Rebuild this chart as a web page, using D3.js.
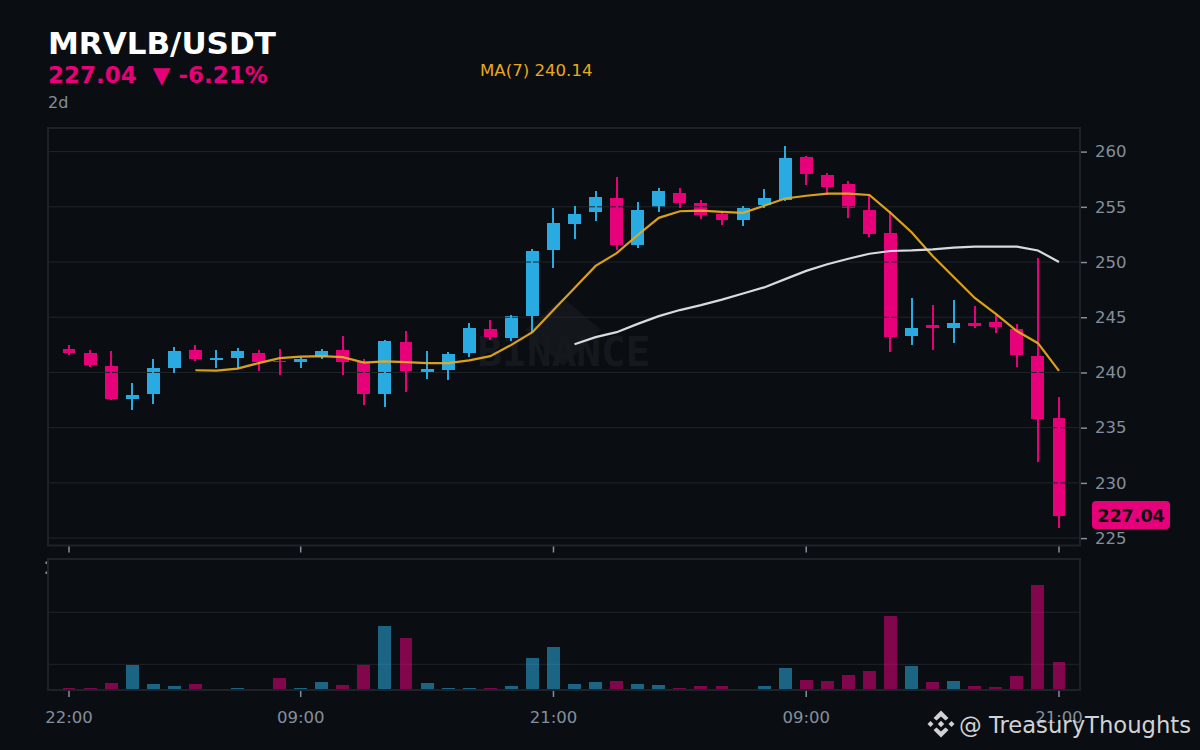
<!DOCTYPE html>
<html>
<head>
<meta charset="utf-8">
<script src="https://cdn.jsdelivr.net/npm/d3@7"></script>
<style>
  html, body { margin: 0; padding: 0; background: #0a0e12; }
  svg { display: block; }
  text { font-family: "DejaVu Sans", sans-serif; }
</style>
</head>
<body>
<svg id="chart" width="1200" height="750"></svg>
<script>
// hourly candles, 22:00 -> 21:00 two days on
var hours = ["22:00","23:00","00:00","01:00","02:00","03:00","04:00","05:00","06:00","07:00","08:00","09:00",
             "10:00","11:00","12:00","13:00","14:00","15:00","16:00","17:00","18:00","19:00","20:00","21:00",
             "22:00","23:00","00:00","01:00","02:00","03:00","04:00","05:00","06:00","07:00","08:00","09:00",
             "10:00","11:00","12:00","13:00","14:00","15:00","16:00","17:00","18:00","19:00","20:00","21:00"];
var opens  = [242.1,241.75,240.57,237.58,238.03,240.39,242.02,241.2,241.3,241.75,241.05,240.93,241.39,242.02,240.93,238.03,242.75,240.03,240.21,241.75,243.93,243.11,245.1,251.09,
              253.44,254.53,255.8,251.54,254.99,256.26,255.35,254.35,253.8,255.17,255.62,259.52,257.89,257.07,254.71,252.63,243.29,244.29,244.02,244.47,244.56,243.93,241.48,235.86];
var closes = [241.75,240.66,237.58,237.94,240.39,241.93,241.21,241.3,241.93,240.93,240.95,241.2,241.93,240.93,238.03,242.84,240.12,240.3,241.66,244.02,243.2,245.1,251.0,253.54,
              254.35,255.89,251.54,254.71,256.44,255.35,254.26,253.8,254.9,255.8,259.43,257.98,256.8,254.9,252.54,243.2,244.02,244.02,244.47,244.2,244.11,241.57,235.77,227.04];
var highs  = [242.45,242.02,241.93,239.03,241.21,242.29,242.47,242.02,242.2,242.02,242.11,241.4,242.11,243.29,241.2,242.93,243.74,241.93,241.84,244.47,244.74,245.2,251.18,254.9,
              255.08,256.44,257.7,255.44,256.71,256.71,255.62,254.62,255.08,256.62,260.52,259.6,258.07,257.34,256.07,254.62,246.74,246.1,246.55,246.01,245.2,244.38,250.37,237.8];
var lows   = [241.55,240.48,237.49,236.58,237.13,239.94,241.02,240.39,240.3,240.12,239.76,240.39,241.23,239.76,237.04,236.85,238.21,239.39,239.3,241.39,242.93,242.84,243.65,249.46,
              252.09,253.72,251.09,251.27,254.53,254.9,253.9,253.35,253.27,254.9,255.5,256.98,256.07,253.99,252.27,241.84,242.48,242.02,242.66,244.02,243.56,240.5,231.9,225.9];
// first MA7 value sits on candle 6, first MA25 value on candle 24
var ma7 = [240.2,240.16,240.35,240.85,241.3,241.43,241.48,241.39,240.9,241.0,240.93,240.85,240.85,241.1,241.48,242.5,243.65,245.65,247.65,249.65,250.8,252.45,254.0,254.6,254.65,254.55,254.45,255.1,255.75,256.0,256.2,256.2,256.07,254.45,252.7,250.55,248.65,246.75,245.3,243.75,242.65,240.14];
var ma25 = [242.55,243.2,243.65,244.4,245.1,245.65,246.1,246.6,247.15,247.7,248.45,249.2,249.8,250.3,250.75,251.0,251.05,251.15,251.3,251.4,251.4,251.4,251.05,250.0];
// volume in relative units, no scale is printed on the chart
var volumes = [1,1,6,24,5,3,5,0.3,1,0.3,11,1,7,4,24,63,51,6,1,1,1,3,31,42,5,7,8,5,4,1,3,3,0.3,3,21,9,8,14,18,73,23,7,8,3,2,13,104,27];
var volTicks = [25, 77];
var priceTicks = [225,230,235,240,245,250,255,260];
var timeTicks = [0,11,23,35,47];
var lastPrice = 227.04;

var UP = "#29abe2", DOWN = "#e6007a", GOLD = "#e6a91e", LINE = "#1e2329", GRIDC = "#20252a", MUTED = "#848e9c";

var svg = d3.select("#chart");
var left = 48, right = 1080;

var idx = d3.range(hours.length);
var x = d3.scaleBand().domain(idx).range([58.47, 1069.53]).paddingInner(0.385).paddingOuter(0.1925);
var cx = function(i) { return x(i) + x.bandwidth() / 2; };
var y = d3.scaleLinear().domain([225, 260]).range([538.1, 151.6]);
var yv = d3.scaleLinear().domain([0, 130]).range([689.3, 559.3]);

// title block
svg.append("text").attr("x", 48).attr("y", 54).attr("fill", "#fff").attr("font-size", 31).attr("font-weight", "bold").text("MRVLB/USDT");
svg.append("text").attr("x", 48).attr("y", 83).attr("fill", DOWN).attr("font-size", 23).attr("font-weight", "bold").attr("xml:space", "preserve").text("227.04  ▼ -6.21%");
svg.append("text").attr("x", 48).attr("y", 108).attr("fill", MUTED).attr("font-size", 16).text("2d");
svg.append("text").attr("x", 480).attr("y", 76).attr("fill", GOLD).attr("font-size", 16.6).text("MA(7) 240.14");

// watermark
var wm = svg.append("g");
wm.append("path").attr("d", "M563 298 L601 330 L563 366 L525 330 Z").attr("fill", "#13171c");
wm.append("text").attr("x", 564).attr("y", 366).attr("text-anchor", "middle").attr("font-size", 41).attr("font-weight", "bold")
  .style("font-family", "'DejaVu Sans Mono', monospace").attr("fill", "#15191e").text("BINANCE");

// candle bodies go under the grid, wicks and MAs above it
var g = svg.append("g").attr("shape-rendering", "crispEdges");
g.selectAll(".body").data(idx).enter().append("rect")
  .attr("class", "body")
  .attr("x", function(i) { return x(i); })
  .attr("width", x.bandwidth())
  .attr("y", function(i) { return y(Math.max(opens[i], closes[i])); })
  .attr("height", function(i) { return Math.max(1.5, Math.abs(y(opens[i]) - y(closes[i]))); })
  .attr("fill", function(i) { return closes[i] >= opens[i] ? UP : DOWN; });

svg.append("g").selectAll("line").data(priceTicks).enter().append("line")
  .attr("x1", left).attr("x2", right)
  .attr("y1", function(d) { return y(d); }).attr("y2", function(d) { return y(d); })
  .attr("stroke", GRIDC).attr("stroke-width", 1);

g = svg.append("g").attr("shape-rendering", "crispEdges");
g.selectAll(".wick").data(idx).enter().append("line")
  .attr("class", "wick")
  .attr("x1", cx).attr("x2", cx)
  .attr("y1", function(i) { return y(highs[i]); })
  .attr("y2", function(i) { return y(lows[i]); })
  .attr("stroke", function(i) { return closes[i] >= opens[i] ? UP : DOWN; })
  .attr("stroke-width", 2);

var ma7Line = d3.line().x(function(d, i) { return cx(i + 6); }).y(function(d) { return y(d); });
var ma25Line = d3.line().x(function(d, i) { return cx(i + 24); }).y(function(d) { return y(d); });
svg.append("path").attr("d", ma7Line(ma7)).attr("fill", "none").attr("stroke", GOLD).attr("stroke-width", 2.2).attr("opacity", 0.95);
svg.append("path").attr("d", ma25Line(ma25)).attr("fill", "none").attr("stroke", "#d8dadd").attr("stroke-width", 2.2);

// price panel frame + axes
svg.append("rect").attr("x", left).attr("y", 128).attr("width", right - left).attr("height", 417.5).attr("fill", "none").attr("stroke", LINE).attr("stroke-width", 2);

var yAxis = d3.axisRight(y).tickValues(priceTicks).tickSize(6).tickPadding(8);
var ya = svg.append("g").attr("transform", "translate(" + (right + 1) + ",0)").call(yAxis);
ya.select(".domain").remove();
ya.selectAll("line").attr("stroke", MUTED).attr("stroke-width", 1.5);
ya.selectAll("text").attr("fill", MUTED).attr("font-size", 16.5).style("font-family", "'DejaVu Sans', sans-serif");

var xTop = d3.axisBottom(x).tickValues(timeTicks).tickSize(6).tickFormat("");
var xa = svg.append("g").attr("transform", "translate(0,546.5)").call(xTop);
xa.select(".domain").remove();
xa.selectAll("line").attr("stroke", MUTED).attr("stroke-width", 1.5);

// last price tag
svg.append("rect").attr("x", 1092).attr("y", 501).attr("width", 78).attr("height", 28).attr("rx", 4).attr("fill", DOWN);
svg.append("text").attr("x", 1131).attr("y", y(lastPrice) + 6).attr("text-anchor", "middle").attr("font-size", 17.5).attr("font-weight", "bold").attr("fill", "#0a0e12").text(lastPrice.toFixed(2));

// volume panel
svg.append("g").selectAll("line").data(volTicks).enter().append("line")
  .attr("x1", left).attr("x2", right)
  .attr("y1", function(d) { return yv(d); }).attr("y2", function(d) { return yv(d); })
  .attr("stroke", GRIDC).attr("stroke-width", 1);

svg.append("g").attr("shape-rendering", "crispEdges").selectAll("rect").data(idx).enter().append("rect")
  .attr("x", function(i) { return x(i); })
  .attr("width", x.bandwidth())
  .attr("y", function(i) { return yv(volumes[i]); })
  .attr("height", function(i) { return yv(0) - yv(volumes[i]); })
  .attr("fill", function(i) { return closes[i] >= opens[i] ? UP : DOWN; })
  .attr("opacity", 0.55);

svg.append("rect").attr("x", left).attr("y", 559).attr("width", right - left).attr("height", 131).attr("fill", "none").attr("stroke", LINE).attr("stroke-width", 2);

// the two specks left of the volume panel
svg.append("rect").attr("x", 45.5).attr("y", 561.5).attr("width", 1.5).attr("height", 2.5).attr("fill", MUTED);
svg.append("rect").attr("x", 45.5).attr("y", 571.5).attr("width", 1.5).attr("height", 2.5).attr("fill", MUTED);

var xBottom = d3.axisBottom(x).tickValues(timeTicks).tickSize(6).tickPadding(14).tickFormat(function(i) { return hours[i]; });
var xb = svg.append("g").attr("transform", "translate(0,691)").call(xBottom);
xb.select(".domain").remove();
xb.selectAll("line").attr("stroke", MUTED).attr("stroke-width", 1.5);
xb.selectAll("text").attr("fill", MUTED).attr("font-size", 16.5).style("font-family", "'DejaVu Sans', sans-serif");

// logo + handle
var logo = svg.append("g").attr("transform", "translate(941,724)").attr("fill", "#d0d2d5");
logo.append("path").attr("d", "M0 -13.5 L7.5 -6 L4.5 -3.5 L0 -7.5 L-4.5 -3.5 L-7.5 -6 Z");
logo.append("path").attr("d", "M0 13.5 L7.5 6 L4.5 3.5 L0 7.5 L-4.5 3.5 L-7.5 6 Z");
logo.append("path").attr("d", "M0 -3.2 L3.2 0 L0 3.2 L-3.2 0 Z");
logo.append("path").attr("d", "M-10.5 -3 L-7.5 0 L-10.5 3 L-13.5 0 Z");
logo.append("path").attr("d", "M10.5 -3 L13.5 0 L10.5 3 L7.5 0 Z");
svg.append("text").attr("x", 959).attr("y", 733).attr("fill", "#d0d2d5").attr("font-size", 22.7).text("@ TreasuryThoughts");
</script>
</body>
</html>
